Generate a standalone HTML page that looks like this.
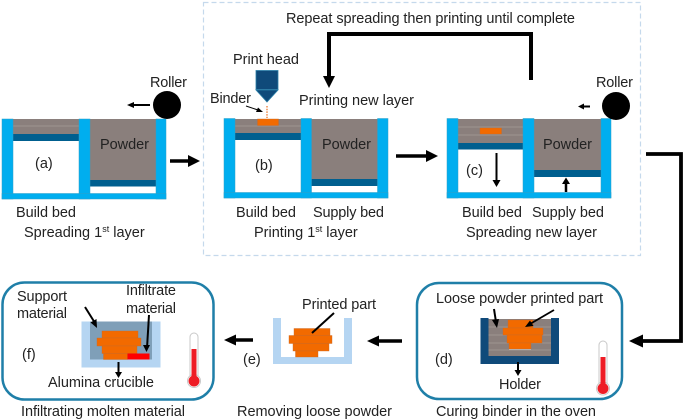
<!DOCTYPE html>
<html>
<head>
<meta charset="utf-8">
<style>
html,body{margin:0;padding:0;background:#fff;width:685px;height:420px;overflow:hidden}
svg{display:block;filter:blur(.35px)}
text{font-family:"Liberation Sans",sans-serif;font-size:14.500px;fill:#222}
.wall{fill:#00aeef;stroke:#2f9fc8;stroke-width:.5}
.pow{fill:#8a7f7c}
.pl{fill:#005f8f}
.or{fill:#f26a00;stroke:#c96a2a;stroke-width:.4}
.ln{stroke:#a59c99;stroke-width:.7}
.blk{stroke:#000;fill:none}
</style>
</head>
<body>
<svg width="685" height="420" viewBox="0 0 685 420" xmlns="http://www.w3.org/2000/svg">
<rect width="685" height="420" fill="#fff"/>
<rect x="203.500" y="2.500" width="437" height="253" fill="none" stroke="#c5d9ec" stroke-width="1.200" stroke-dasharray="5 3"/>

<!-- (a) -->
<rect class="pow" x="13" y="119" width="66" height="15"/>
<line class="ln" x1="13" y1="126" x2="79" y2="126"/>
<rect class="pl" x="13" y="134" width="66" height="7"/>
<rect class="pow" x="90" y="119" width="66" height="61"/>
<rect class="pl" x="90" y="180" width="66" height="6.500"/>
<rect class="wall" x="2" y="119" width="11" height="80"/>
<rect class="wall" x="79" y="119" width="11" height="80"/>
<rect class="wall" x="156" y="119" width="10" height="80"/>
<rect class="wall" x="2" y="193.500" width="164" height="5.500"/>
<circle cx="167" cy="105" r="14" fill="#000"/>
<line class="blk" x1="150" y1="105" x2="134" y2="105" stroke-width="2"/>
<polygon points="127,105 134,102 134,108" fill="#000"/>
<line class="blk" x1="170" y1="161" x2="189" y2="161" stroke-width="3.500"/>
<polygon points="200,161 188,155 188,167" fill="#000"/>

<!-- (b) -->
<rect class="pow" x="235" y="119" width="66" height="14"/>
<line class="ln" x1="235" y1="126" x2="301" y2="126"/>
<rect class="pl" x="235" y="133" width="66" height="7"/>
<rect class="or" x="257.500" y="119" width="21" height="6.500"/>
<rect class="pow" x="311.500" y="119" width="66" height="60"/>
<rect class="pl" x="311.500" y="179" width="66" height="7"/>
<rect class="wall" x="224" y="118.500" width="11" height="79.500"/>
<rect class="wall" x="301" y="118.500" width="10.500" height="79.500"/>
<rect class="wall" x="377.500" y="118.500" width="10.500" height="79.500"/>
<rect class="wall" x="224" y="192.500" width="164" height="5.500"/>
<rect x="256" y="70.500" width="22" height="19" fill="#0f4a7a" stroke="#2a7fa8" stroke-width=".8"/>
<polygon points="256,90 278,90 267,102" fill="#0f4a7a" stroke="#2a7fa8" stroke-width=".8"/>
<line x1="267" y1="106" x2="267" y2="118" stroke="#f08a4a" stroke-width="1.500" stroke-dasharray="1.500 1.200"/>
<line class="blk" x1="246" y1="106" x2="258" y2="110" stroke-width="1"/>
<polygon points="263,112 256,112 258,107.500" fill="#000"/>
<line class="blk" x1="396" y1="156" x2="427" y2="156" stroke-width="3.500"/>
<polygon points="438,156 426,150 426,162" fill="#000"/>

<!-- feedback -->
<polyline class="blk" points="531,80 531,34 329,34 329,78" stroke-width="4"/>
<polygon points="329,88 323,76 335,76" fill="#000"/>

<!-- (c) -->
<rect class="pow" x="458" y="119" width="65" height="24"/>
<line class="ln" x1="458" y1="127" x2="523" y2="127"/>
<line class="ln" x1="458" y1="135" x2="523" y2="135"/>
<rect class="pl" x="458" y="143" width="65" height="6.500"/>
<rect class="or" x="480" y="128" width="21.500" height="6"/>
<rect class="pow" x="534" y="119" width="67" height="51"/>
<rect class="pl" x="534" y="170" width="67" height="7"/>
<rect class="wall" x="447" y="118.500" width="11" height="79.500"/>
<rect class="wall" x="523" y="118.500" width="11" height="79.500"/>
<rect class="wall" x="601" y="118.500" width="10" height="79.500"/>
<rect class="wall" x="447" y="192.500" width="164" height="5.500"/>
<circle cx="616" cy="106" r="14" fill="#000"/>
<line class="blk" x1="590" y1="106.500" x2="582" y2="106.500" stroke-width="2"/>
<polygon points="578,106.500 584,103.500 584,109.500" fill="#000"/>
<line class="blk" x1="496.500" y1="153" x2="496.500" y2="182" stroke-width="2"/>
<polygon points="496.500,187 492.500,180 500.500,180" fill="#000"/>
<line class="blk" x1="566" y1="192" x2="566" y2="182" stroke-width="2.500"/>
<polygon points="566,177.500 562,184 570,184" fill="#000"/>

<!-- to (d) -->
<polyline class="blk" points="646,154 681,154 681,341 640,341" stroke-width="3.800"/>
<polygon points="629,341 643,334.500 643,347.500" fill="#000"/>

<!-- (d) -->
<rect x="417" y="283" width="205" height="116" rx="22" ry="22" fill="#fff" stroke="#1f7fa8" stroke-width="2.500"/>
<rect class="pow" x="488" y="319" width="63" height="37"/>
<line class="ln" x1="488" y1="327" x2="551" y2="327"/>
<line class="ln" x1="488" y1="335" x2="551" y2="335"/>
<line class="ln" x1="488" y1="343" x2="551" y2="343"/>
<line class="ln" x1="488" y1="350" x2="551" y2="350"/>
<rect x="480.500" y="318" width="8" height="46" fill="#0f4a7a"/>
<rect x="551" y="318" width="8" height="46" fill="#0f4a7a"/>
<rect x="480.500" y="356" width="78.500" height="8" fill="#0f4a7a"/>
<rect class="or" x="508" y="320" width="25" height="8"/>
<rect class="or" x="503" y="328" width="40" height="7"/>
<rect class="or" x="507" y="335" width="35" height="8"/>
<rect class="or" x="509" y="343" width="22" height="6"/>
<rect x="509" y="349" width="22" height="1" fill="#b5afad"/>
<line class="blk" x1="494" y1="309" x2="496" y2="322" stroke-width="2"/>
<polygon points="497,328 492,320 499,319" fill="#000"/>
<line class="blk" x1="554" y1="310" x2="530" y2="324" stroke-width="1.800"/>
<polygon points="525,327 530,320.500 533.500,326" fill="#000"/>
<line class="blk" x1="518" y1="362" x2="518" y2="372" stroke-width="2"/>
<polygon points="518,376 514.500,370 521.500,370" fill="#000"/>
<!-- thermometer d -->
<rect x="599" y="341" width="8" height="48" rx="4" fill="#fff" stroke="#c9c9c9" stroke-width="1"/>
<circle cx="603" cy="388.500" r="6.500" fill="#fff" stroke="#c9c9c9" stroke-width="1"/>
<rect x="600.500" y="357" width="5" height="30" fill="#ee1c25"/>
<circle cx="603" cy="388.500" r="5.500" fill="#ee1c25"/>

<!-- (e) -->
<path d="M273 318 H281 V357 H344 V318 H352 V364 H273 Z" fill="#b5d5f2"/>
<rect class="or" x="294" y="328.500" width="36" height="7"/>
<rect class="or" x="289" y="335.500" width="43" height="8"/>
<rect class="or" x="293" y="343.500" width="36" height="7.500"/>
<rect class="or" x="295.500" y="351" width="22.500" height="6"/>
<line class="blk" x1="334" y1="313" x2="312" y2="333" stroke-width="2"/>
<line class="blk" x1="402" y1="341" x2="378" y2="341" stroke-width="3.500"/>
<polygon points="367,341 379,335.500 379,346.500" fill="#000"/>
<line class="blk" x1="253" y1="340" x2="235" y2="340" stroke-width="3.500"/>
<polygon points="224,340 236,334.500 236,345.500" fill="#000"/>

<!-- (f) -->
<rect x="2.500" y="282.500" width="211" height="117" rx="22" ry="22" fill="#fff" stroke="#1f7fa8" stroke-width="2.500"/>
<rect x="81.500" y="321.500" width="79" height="46" fill="#b5d5f2"/>
<rect x="90" y="321.500" width="62" height="38" fill="#7f9fb8"/>
<rect class="or" x="102" y="331" width="36" height="7"/>
<rect class="or" x="97" y="338" width="44" height="8"/>
<rect class="or" x="102" y="346" width="35" height="7.500"/>
<rect class="or" x="103.500" y="353.500" width="24" height="6"/>
<rect x="127.500" y="353.500" width="22" height="6" fill="#ff0000"/>
<line class="blk" x1="85" y1="307" x2="95" y2="323" stroke-width="2"/>
<polygon points="97,328 90.500,322.500 96.500,319" fill="#000"/>
<line class="blk" x1="149" y1="315" x2="147" y2="348" stroke-width="2"/>
<polygon points="146.500,352 143,345 150,345" fill="#000"/>
<line class="blk" x1="118.500" y1="362" x2="118.500" y2="374" stroke-width="2"/>
<polygon points="118.500,378 115,372 122,372" fill="#000"/>
<!-- thermometer f -->
<rect x="190" y="333" width="8" height="49" rx="4" fill="#fff" stroke="#c9c9c9" stroke-width="1"/>
<circle cx="194" cy="381" r="6.500" fill="#fff" stroke="#c9c9c9" stroke-width="1"/>
<rect x="191.500" y="349" width="5" height="30" fill="#ee1c25"/>
<circle cx="194" cy="381" r="5.500" fill="#ee1c25"/>

<!-- labels -->
<text x="150" y="87" textLength="37">Roller</text>
<text x="100" y="149" textLength="49">Powder</text>
<text x="35" y="168">(a)</text>
<text x="16" y="217" textLength="60">Build bed</text>
<text x="24" y="237">Spreading 1<tspan font-size="9" dy="-5">st</tspan><tspan dy="5"> layer</tspan></text>

<text x="286" y="23" textLength="289">Repeat spreading then printing until complete</text>
<text x="233" y="64" textLength="66">Print head</text>
<text x="210" y="103" textLength="41">Binder</text>
<text x="299" y="105" textLength="115">Printing new layer</text>
<text x="322" y="149" textLength="49">Powder</text>
<text x="255" y="170">(b)</text>
<text x="236" y="217" textLength="60">Build bed</text>
<text x="313" y="217" textLength="71">Supply bed</text>
<text x="254" y="237">Printing 1<tspan font-size="9" dy="-5">st</tspan><tspan dy="5"> layer</tspan></text>

<text x="596" y="87" textLength="37">Roller</text>
<text x="543" y="149" textLength="49">Powder</text>
<text x="466" y="175">(c)</text>
<text x="462" y="217" textLength="60">Build bed</text>
<text x="532" y="217" textLength="72">Supply bed</text>
<text x="466" y="237" textLength="131">Spreading new layer</text>

<text x="436" y="303" textLength="167">Loose powder printed part</text>
<text x="435" y="364">(d)</text>
<text x="499" y="389" textLength="42">Holder</text>
<text x="436" y="416" textLength="160">Curing binder in the oven</text>

<text x="302" y="309" textLength="74">Printed part</text>
<text x="243" y="364">(e)</text>
<text x="237" y="416" textLength="155">Removing loose powder</text>

<text x="17" y="301" textLength="50">Support</text>
<text x="17" y="318" textLength="50">material</text>
<text x="126" y="295" textLength="50">Infiltrate</text>
<text x="126" y="313" textLength="50">material</text>
<text x="22" y="359">(f)</text>
<text x="48" y="387" textLength="106">Alumina crucible</text>
<text x="21" y="416" textLength="164">Infiltrating molten material</text>
</svg>
</body>
</html>
